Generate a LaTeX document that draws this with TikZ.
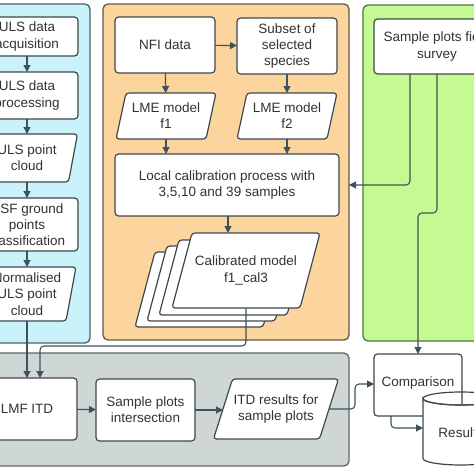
\documentclass[tikz,border=0pt]{standalone}
\usepackage{fontspec}
\setmainfont{Liberation Sans}
\usetikzlibrary{arrows.meta,calc}
\definecolor{bluefill}{RGB}{201,242,251}
\definecolor{blueline}{RGB}{70,98,108}
\definecolor{orangefill}{RGB}{252,213,158}
\definecolor{orangeline}{RGB}{100,88,66}
\definecolor{greenfill}{RGB}{197,250,146}
\definecolor{greenline}{RGB}{78,118,62}
\definecolor{grayfill}{RGB}{206,214,214}
\definecolor{grayline}{RGB}{92,102,102}
\definecolor{nodeline}{RGB}{62,72,76}
\definecolor{arrowcol}{RGB}{62,82,90}
\definecolor{txtcol}{RGB}{50,50,50}
\newcommand\paranode[7]{% name, cx, cy, w, h, slant, text
  \filldraw[pbox] ({#2-#4/2+#6/2},{#3-#5/2}) -- ({#2+#4/2+#6/2},{#3-#5/2}) -- ({#2+#4/2-#6/2},{#3+#5/2}) -- ({#2-#4/2-#6/2},{#3+#5/2}) -- cycle;
  \node[txt, minimum width=#4, minimum height=#5] (#1) at (#2,#3) {#7};}
\newcommand\parashape[5]{% cx, cy, w, h, slant
  \filldraw[pbox] ({#1-#3/2+#5/2},{#2-#4/2}) -- ({#1+#3/2+#5/2},{#2-#4/2}) -- ({#1+#3/2-#5/2},{#2+#4/2}) -- ({#1-#3/2-#5/2},{#2+#4/2}) -- cycle;}
\tikzset{
  txt/.style={inner sep=0pt, outer sep=0pt, align=center, text=txtcol,
    font=\fontsize{13.5}{16.2}\selectfont},
  box/.style={txt, draw=nodeline, fill=white, line width=1.2pt, rounded corners=3.5pt},
  pbox/.style={draw=nodeline, fill=white, line width=1.2pt, rounded corners=3pt},
  cont/.style={draw, line width=1.3pt, rounded corners=5pt, inner sep=0pt, outer sep=0pt},
  arr/.style={draw=arrowcol, line width=1.1pt, -{Triangle[length=7pt,width=7pt]}},
  lin/.style={draw=arrowcol, line width=1.1pt}
}
\begin{document}
\begin{tikzpicture}[x=1pt,y=-1pt]
\useasboundingbox (0,0) rectangle (474,474);
\clip (0,0) rectangle (474,474);
\fill[white] (0,0) rectangle (474,474);
% containers
\node[cont, draw=blueline, fill=bluefill, minimum width=130, minimum height=339] (blue) at (25,173.5) {};
\node[cont, draw=orangeline, fill=orangefill, minimum width=246, minimum height=336] (orange) at (226,172) {};
\node[cont, draw=greenline, fill=greenfill, minimum width=160, minimum height=336] (green) at (443,173) {};
\node[cont, draw=grayline, fill=grayfill, minimum width=389, minimum height=113] (gray) at (154.5,409.5) {};
% blue column
\node[box, minimum width=102, minimum height=39] (acq) at (27,36.5) {ULS data\\acquisition};
\node[box, minimum width=102, minimum height=47] (proc) at (27,95.5) {ULS data\\processing};
\paranode{pc}{27}{158}{92}{48}{9}{ULS point\\cloud}
\node[box, minimum width=102, minimum height=53] (csf) at (27,224.5) {CSF ground\\points\\classification};
\paranode{nrm}{27}{294}{88}{54}{10}{Normalised\\ULS point\\cloud}
\draw[arr] (acq) -- (proc);
\draw[arr] (proc) -- (pc);
\draw[arr] (pc) -- (csf);
\draw[arr] (csf) -- (nrm);
% orange column
\node[box, minimum width=100, minimum height=56] (nfi) at (165,45) {NFI data};
\node[box, minimum width=100, minimum height=56] (sub) at (287,46) {Subset of\\selected\\species};
\paranode{lmeA}{166}{116}{90}{46}{10}{LME model\\f1}
\paranode{lmeB}{287}{116}{90}{46}{10}{LME model\\f2}
\node[box, minimum width=224, minimum height=62] (cal) at (227,185) {Local calibration process with\\3,5,10 and 39 samples};
\parashape{209}{289.5}{128}{75}{20}
\parashape{221}{283.5}{128}{75}{20}
\parashape{233}{277.5}{128}{75}{20}
\paranode{calm}{246}{270.5}{128}{75}{20}{Calibrated model\\f1\_cal3}
\draw[arr] (nfi) -- (sub);
\draw[arr] (nfi) -- (lmeA);
\draw[arr] (sub.south -| lmeB) -- (lmeB);
\draw[arr] (lmeA) -- (lmeA |- cal.north);
\draw[arr] (lmeB) -- (lmeB |- cal.north);
\draw[arr] (cal.south -| 228,0) -- (228,233);
% green column
\node[box, minimum width=126, minimum height=55] (fs) at (437,46.5) {Sample plots field\\survey};
% gray row
\node[box, minimum width=100, minimum height=62] (lmf) at (27,409) {LMF ITD};
\node[box, minimum width=99, minimum height=62] (samp) at (145.5,410) {Sample plots\\intersection};
\paranode{itd}{276}{409}{106}{60}{19}{ITD results for\\sample plots}
\draw[arr] (lmf) -- (samp);
\draw[arr] (samp) -- (samp -| itd.west);
% comparison and results
\node[box, minimum width=88, minimum height=62] (comp) at (418,385) {};
\node[txt] at (418,383) {Comparison};
\filldraw[pbox, rounded corners=0pt] (423,398.5) -- (423,458.5) arc[start angle=180, end angle=0, x radius=38, y radius=6.5] -- (499,398.5) arc[start angle=0, end angle=180, x radius=38, y radius=6.5] -- cycle;
\draw[pbox, fill=none, rounded corners=0pt] (461,398.5) ellipse[x radius=38, y radius=6.5];
\node[txt] (res) at (461,433) {Results};
% connectors across groups
\coordinate (jn) at (40,346);
\draw[arr] (nrm.south) -- (lmf.north);
\draw[arr, rounded corners=4pt] (calm.south) |- (jn) -- (jn |- lmf.north);
\draw[arr, rounded corners=4pt] ([xshift=-27pt]fs.south) |- (orange.east |- cal.east);
\draw[arr, rounded corners=4pt] (fs.south) -- ++(0,139) -| (comp.north);
\draw[arr, rounded corners=4pt] (itd.east) -- (355,409) |- (comp.west |- 0,384);
\draw[arr, rounded corners=4pt] ([xshift=-27pt]comp.south) |- (423,428);
\end{tikzpicture}
\end{document}
